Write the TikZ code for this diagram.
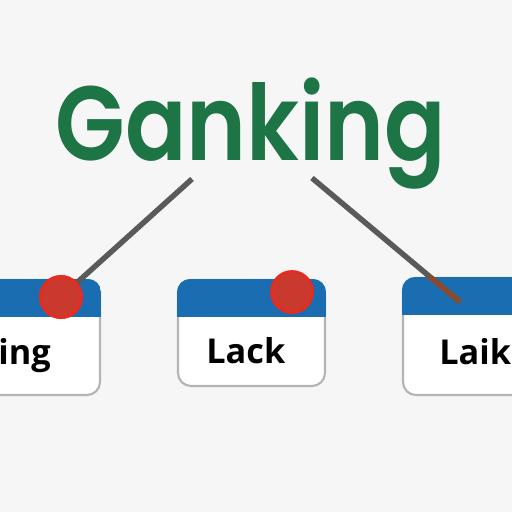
\documentclass[tikz,border=0pt]{standalone}
\usepackage{fontspec}
\usepackage{tikz}
\usetikzlibrary{positioning,calc}
\usepackage{xcolor}
\newfontfamily\titlefont{Poppins}[UprightFont=*-SemiBold]
\newfontfamily\cardfont{Open Sans}

\definecolor{bgcol}{HTML}{F6F6F6}
\definecolor{titlegreen}{HTML}{1D7444}
\definecolor{headblue}{HTML}{1A6DB0}
\definecolor{dotred}{HTML}{C9392E}
\definecolor{dotring}{HTML}{E82A1F}
\definecolor{linegray}{HTML}{5A5A5A}
\definecolor{linebrown}{HTML}{8B4A2E}
\definecolor{cardgray}{HTML}{B4B4B4}

\begin{document}
\begin{tikzpicture}[
        x=0.02cm, y=-0.02cm,
        title/.style={font=\titlefont\fontsize{60}{60}\selectfont, text=titlegreen, inner sep=0pt},
        card/.style={draw=cardgray, line width=1.2pt, fill=white, rounded corners=0.26cm, inner sep=0pt},
        label/.style={font=\cardfont\bfseries\fontsize{19.5}{19.5}\selectfont, inner sep=0pt, anchor=base west},
        wire/.style={line width=3.1pt, linegray},
        dot/.style={circle, draw=dotring, line width=1.6pt, fill=dotred, minimum size=0.82cm, inner sep=0pt}
    ]
    \fill[bgcol] (0,0) rectangle (512,512);
    \useasboundingbox (0,0) rectangle (512,512);
    \clip (0,0) rectangle (512,512);

    % title
    \node[title, anchor=base, xscale=0.86] (ttl) at (251,160) {Ganking};

    % cards
    \node[card, minimum width=2.94cm, minimum height=2.30cm] (c1) at (26.5,337.5) {};
    \node[card, minimum width=2.94cm, minimum height=2.12cm] (c2) at (251.5,333) {};
    \node[card, minimum width=2.94cm, minimum height=2.34cm] (c3) at (476.5,336.5) {};

    % blue headers
    \foreach \c in {c1,c2,c3} {
        \begin{scope}
            \clip[rounded corners=0.26cm] (\c.south west) rectangle (\c.north east);
            \fill[headblue] (\c.north west) rectangle ($(\c.north east)+(0,38)$);
        \end{scope}
    }

    \node[label] (t1) at (-2,364) {ing};
    \node[label] (t2) at (206,363) {Lack};
    \node[label] (t3) at (439,364) {Laik};

    % connectors
    \coordinate (s1) at (192,179);
    \coordinate (s3) at (312,178);
    \coordinate (e3) at (460,302);
    \node[dot] (d1) at (61,297) {};
    \draw[wire] (s1) -- (d1.center);
    \node[dot] at (61,297) {};
    \node[dot] (d2) at (292,292) {};
    \draw[wire] (s3) -- (e3);
    \begin{scope}
        \clip (c3.north west) rectangle ($(c3.north east)+(0,38)$);
        \draw[wire, linebrown] (s3) -- (e3);
    \end{scope}
\end{tikzpicture}
\end{document}
